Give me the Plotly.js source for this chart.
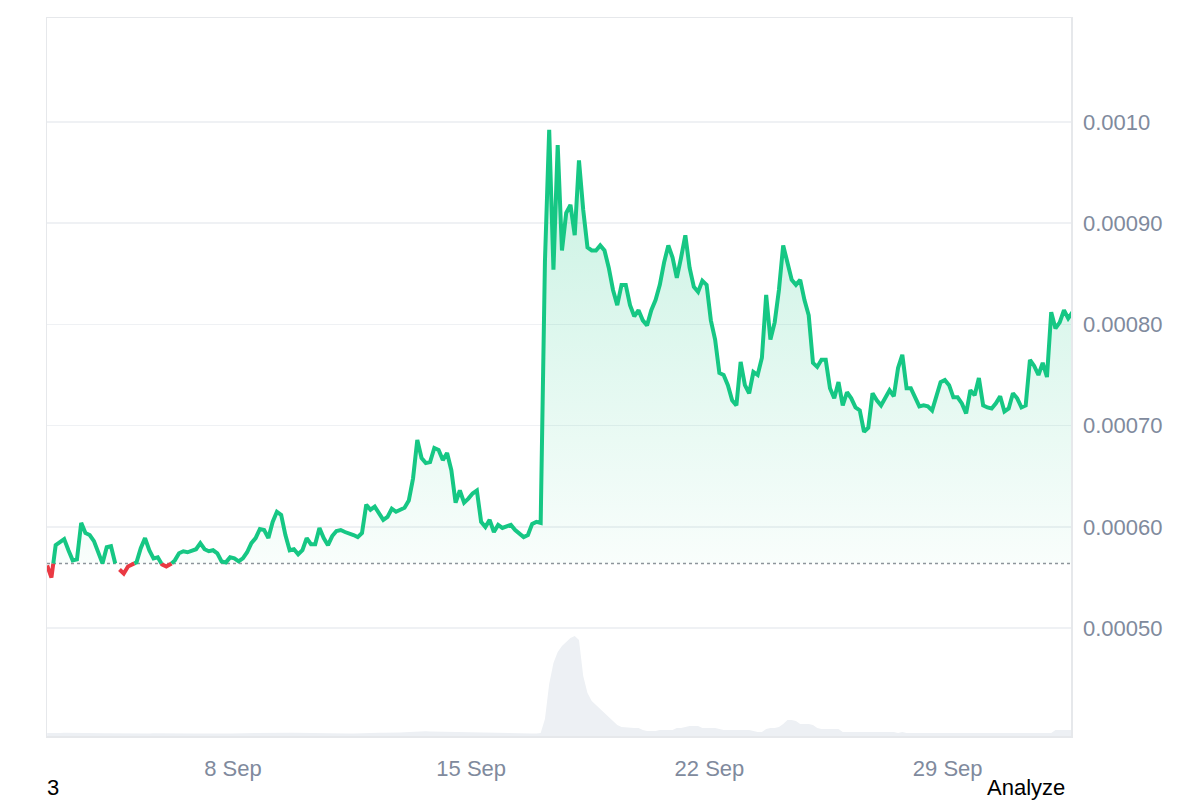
<!DOCTYPE html>
<html>
<head>
<meta charset="utf-8">
<script src="https://cdn.plot.ly/plotly-3.0.1.min.js"></script>
<style>
html,body{margin:0;padding:0;background:#ffffff;}
#chart{width:1200px;height:800px;}
</style>
</head>
<body>
<div id="chart"></div>
<script>
// ---- DATA ----
const startTimeUTC = [2024, 8, 2, 13]; // 2 Sep 2024 13:00, one sample every 3 hours
const stepHours = 3;

const prices = [
0.000562,0.000550,0.000582,0.000585,0.000588,0.000577,0.000567,0.000568,0.000604,0.000594,
0.000592,0.000586,0.000574,0.000564,0.000580,0.000581,0.000564,0.000558,0.000554,0.000561,
0.000563,0.000565,0.000579,0.000589,0.000577,0.000569,0.000570,0.000563,0.000561,0.000563,
0.000567,0.000574,0.000576,0.000575,0.000577,0.000578,0.000584,0.000578,0.000576,0.000577,
0.000574,0.000566,0.000565,0.000570,0.000569,0.000566,0.000569,0.000575,0.000584,0.000589,
0.000598,0.000597,0.000589,0.000605,0.000615,0.000612,0.000592,0.000577,0.000578,0.000573,
0.000577,0.000589,0.000583,0.000583,0.000599,0.000589,0.000582,0.000591,0.000596,0.000597,
0.000595,0.000594,0.000592,0.000590,0.000594,0.000622,0.000617,0.000620,0.000613,0.000607,
0.000610,0.000618,0.000615,0.000617,0.000619,0.000626,0.000648,0.000686,0.000668,0.000663,
0.000664,0.000678,0.000676,0.000666,0.000673,0.000656,0.000624,0.000636,0.000624,0.000628,
0.000633,0.000636,0.000605,0.000600,0.000607,0.000595,0.000602,0.000599,0.000600,0.000602,
0.000597,0.000593,0.000590,0.000592,0.000603,0.000605,0.000604,0.000862,0.000992,0.000854,
0.000977,0.000873,0.000910,0.000918,0.000888,0.000962,0.000913,0.000876,0.000873,0.000873,
0.000878,0.000873,0.000856,0.000834,0.000819,0.000839,0.000839,0.000819,0.000808,0.000814,
0.000804,0.000799,0.000814,0.000824,0.000839,0.000861,0.000878,0.000866,0.000846,0.000866,
0.000888,0.000856,0.000837,0.000832,0.000843,0.000839,0.000804,0.000785,0.000752,0.000750,
0.000740,0.000725,0.000720,0.000763,0.000740,0.000732,0.000753,0.000750,0.000767,0.000829,
0.000785,0.000802,0.000834,0.000878,0.000862,0.000844,0.000839,0.000844,0.000824,0.000809,
0.000762,0.000758,0.000765,0.000765,0.000737,0.000727,0.000743,0.000720,0.000733,0.000727,
0.000718,0.000715,0.000694,0.000698,0.000732,0.000725,0.000720,0.000727,0.000735,0.000729,
0.000757,0.000770,0.000737,0.000737,0.000727,0.000719,0.000720,0.000719,0.000715,0.000730,
0.000743,0.000745,0.000740,0.000728,0.000728,0.000722,0.000712,0.000735,0.000730,0.000747,
0.000720,0.000718,0.000717,0.000722,0.000729,0.000714,0.000717,0.000732,0.000727,0.000718,
0.000720,0.000765,0.000759,0.000750,0.000762,0.000748,0.000812,0.000796,0.000802,0.000814,
0.000806,0.000812
];

// 24h trading volume (thousand USD), same time grid
const volumes = [
30,28,27,30,32,31,29,28,30,31,
30,29,27,26,27,28,27,26,25,26,
25,24,24,25,26,27,26,25,24,23,
23,24,23,22,23,24,24,23,22,22,
22,23,24,26,27,28,29,30,31,31,
32,33,34,35,36,35,34,33,32,31,
30,30,29,28,28,27,27,26,26,26,
25,25,26,28,30,33,35,34,33,32,
31,31,32,34,37,40,44,48,48,47,
46,45,44,44,43,41,39,37,35,34,
33,32,30,28,27,26,25,24,24,23,
23,22,22,23,24,25,30,170,520,730,
840,900,940,980,1000,960,600,430,350,310,
280,240,200,150,110,90,85,80,80,80,
60,50,50,50,60,60,60,60,80,80,
90,100,100,100,80,80,80,80,70,60,
60,60,60,60,60,60,50,40,40,70,
80,80,90,120,160,160,150,120,120,120,
110,80,70,70,70,70,70,40,40,40,
40,40,40,40,40,40,40,40,40,40,
30,40,30,30,30,30,30,30,30,30,
30,30,30,30,30,30,30,30,30,30,
30,30,30,30,30,30,30,30,30,30,
30,30,30,30,30,30,30,60,60,60,
60,60
];

const baselinePrice = 0.000564;
const xTickDates = ['2024-09-08', '2024-09-15', '2024-09-22', '2024-09-29'];
const xTickLabels = ['8 Sep', '15 Sep', '22 Sep', '29 Sep'];
const yTickValues = [0.0005, 0.0006, 0.0007, 0.0008, 0.0009, 0.0010];
const yTickLabels = ['0.00050', '0.00060', '0.00070', '0.00080', '0.00090', '0.0010'];

// ---- BUILD ----
function pad(n){ return (n < 10 ? '0' : '') + n; }
function fmt(ms){
  const d = new Date(ms);
  return d.getUTCFullYear() + '-' + pad(d.getUTCMonth()+1) + '-' + pad(d.getUTCDate()) + ' ' +
         pad(d.getUTCHours()) + ':' + pad(d.getUTCMinutes()) + ':' + pad(d.getUTCSeconds());
}
const t0 = Date.UTC.apply(null, startTimeUTC);
const times = prices.map((_, i) => t0 + i * stepHours * 3600e3);

const gx = [], gy = [], rx = [], ry = [];
const fx = [], fy = [];
for (let i = 0; i < prices.length; i++) {
  const v = prices[i];
  if (i > 0) {
    const pv = prices[i-1];
    if ((pv - baselinePrice) * (v - baselinePrice) < 0) {
      const f = (baselinePrice - pv) / (v - pv);
      const tc = fmt(times[i-1] + f * (times[i] - times[i-1]));
      gx.push(tc); gy.push(baselinePrice);
      rx.push(tc); ry.push(baselinePrice);
      fx.push(tc); fy.push(baselinePrice);
    }
  }
  const ts = fmt(times[i]);
  fx.push(ts); fy.push(Math.max(v, baselinePrice));
  if (v >= baselinePrice) { gx.push(ts); gy.push(v); rx.push(ts); ry.push(null); }
  else { gx.push(ts); gy.push(null); rx.push(ts); ry.push(v); }
}
const timeStr = times.map(fmt);
const maxVol = Math.max.apply(null, volumes);

const GREEN = '#16c784', RED = '#ea3943';

const traces = [
  { // baseline reference for the fill
    x: fx, y: fx.map(() => baselinePrice), type: 'scatter', mode: 'lines',
    line: {width: 0, color: 'rgba(0,0,0,0)'}, hoverinfo: 'skip', yaxis: 'y'
  },
  { // price area fill (line to baseline)
    x: fx, y: fy, type: 'scatter', mode: 'lines',
    line: {width: 0, color: 'rgba(22,199,132,0)'},
    fill: 'tonexty',
    fillgradient: {type: 'vertical', start: 0.000530, stop: 0.00110,
      colorscale: [[0, 'rgba(22,199,132,0.01)'], [1, 'rgba(22,199,132,0.30)']]},
    hoverinfo: 'skip', yaxis: 'y'
  },
  { x: rx, y: ry, type: 'scatter', mode: 'lines', line: {color: RED, width: 4}, yaxis: 'y', connectgaps: false },
  { x: gx, y: gy, type: 'scatter', mode: 'lines', line: {color: GREEN, width: 4}, yaxis: 'y', connectgaps: false },
  { // volume
    x: timeStr, y: volumes, type: 'scatter', mode: 'lines',
    line: {width: 0, color: '#edf0f4'},
    fill: 'tozeroy', fillcolor: '#edf0f4', yaxis: 'y2', hoverinfo: 'skip'
  }
];

const layout = {
  width: 1200, height: 800,
  margin: {l: 47, r: 129, t: 18, b: 64},
  paper_bgcolor: '#ffffff', plot_bgcolor: '#ffffff',
  showlegend: false,
  font: {family: 'Arial, "Liberation Sans", sans-serif', size: 22, color: '#808a9d'},
  xaxis: {
    type: 'date', range: ['2024-09-02 12:53', '2024-10-02 14:57'],
    tickmode: 'array', tickvals: xTickDates, ticktext: xTickLabels,
    showgrid: false, zeroline: false, ticks: '',
    showline: true, mirror: true, linecolor: '#e6e8eb', linewidth: 1.5,
    tickfont: {size: 22, color: '#808a9d'}, ticklabelstandoff: 12
  },
  yaxis: {
    side: 'right', range: [0.0003936, 0.0011025],
    tickmode: 'array', tickvals: yTickValues, ticktext: yTickLabels,
    showgrid: true, gridcolor: '#eff1f4', gridwidth: 1.5, zeroline: false, ticks: '',
    showline: true, mirror: true, linecolor: '#e6e8eb', linewidth: 1.5,
    tickfont: {size: 22, color: '#808a9d'}, ticklabelstandoff: 6
  },
  yaxis2: {overlaying: 'y', range: [0, maxVol * 7.18], visible: false, showgrid: false, zeroline: false},
  shapes: [{
    type: 'line', xref: 'paper', x0: 0, x1: 1, yref: 'y', y0: baselinePrice, y1: baselinePrice,
    line: {color: '#8f949b', width: 1.5, dash: 'dot'}, layer: 'below'
  }],
  annotations: [
    {text: '3', xref: 'paper', yref: 'paper', x: 0.00586, y: -0.0724, xanchor: 'center', yanchor: 'middle',
     showarrow: false, font: {size: 22, color: '#000000'}},
    {text: 'Analyze', xref: 'paper', yref: 'paper', x: 0.9556, y: -0.0724, xanchor: 'center', yanchor: 'middle',
     showarrow: false, font: {size: 22, color: '#000000'}}
  ]
};

Plotly.newPlot('chart', traces, layout, {displayModeBar: false, staticPlot: true});
</script>
</body>
</html>
